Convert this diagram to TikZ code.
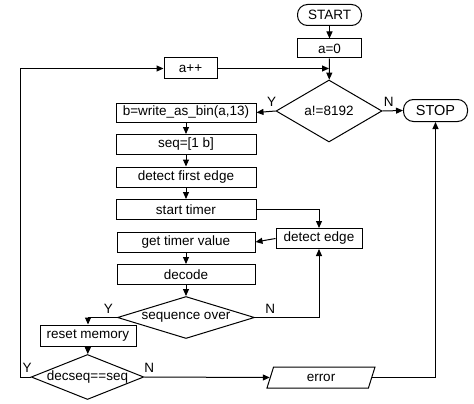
\documentclass[tikz,border=0pt]{standalone}
\usepackage{fontspec}
\setmainfont{Liberation Sans}
\usetikzlibrary{positioning, shapes.geometric, arrows.meta}

\tikzset{
  every node/.style={font=\fontsize{13.5}{15}\selectfont},
  flow/.style={line width=1pt, -{Triangle[length=7pt,width=6pt]}},
  box/.style={draw, line width=1pt, rectangle, minimum width=140pt, minimum height=20pt, inner sep=1pt},
  term/.style={draw, line width=1pt, rectangle, rounded corners=10pt, minimum width=64pt, minimum height=21pt, inner sep=1pt},
  decision/.style={draw, line width=1pt, diamond, inner sep=0pt},
  inout/.style={draw, line width=1pt, trapezium, trapezium left angle=55, trapezium right angle=125, trapezium stretches body, minimum width=108pt, minimum height=21pt, inner sep=1pt},
  yn/.style={inner sep=1pt, above=3pt}
}

\begin{document}
\begin{tikzpicture}[x=1pt, y=-1pt]
  \useasboundingbox (0,0) rectangle (474,404);

  % main loop over a
  \node[term] (start) at (329.5,15) {START};
  \node[box, minimum width=64pt, minimum height=19pt] (init) at (329.5,48.5) {a=0};
  \node[box, minimum width=53pt, minimum height=21pt] (inc) at (190.5,68.5) {a++};
  \node[decision, minimum width=106pt, minimum height=62pt, aspect=1.7] (test) at (329,111) {a!=8192};
  \node[term, minimum height=22pt, font=\fontsize{14.5}{16}\selectfont] (stop) at (435.5,110.5) {STOP};

  % left column
  \node[box, minimum height=19pt] (bin) at (186,112.5) {b=write\_as\_bin(a,13)};
  \node[box, below=11.5pt of bin] (seq) {seq=[1 b]};
  \node[box, below=11.5pt of seq] (first) {detect first edge};
  \node[box, below=11.5pt of first] (timer) {start timer};
  \node[box, minimum width=138pt, below=11.5pt of timer] (getval) {get timer value};
  \node[box, minimum width=138pt, below=11.5pt of getval] (decode) {decode};
  \node[box, minimum width=86pt] (edge) at (319,238.5) {detect edge};
  \node[decision, minimum width=137pt, minimum height=42pt, aspect=3.2, below=11pt of decode] (over) {sequence over};
  \node[box, minimum width=96pt, minimum height=21pt] (reset) at (88,335.5) {reset memory};
  \node[decision, minimum width=105pt, minimum height=42pt, aspect=2.5] (check) at (87.5,377) {decseq==seq};
  \node[inout] (err) at (321,377.5) {error};
  \coordinate (back) at (20,377);

  \draw[flow] (start) -- (init);
  \draw[flow] (init) -- (test);
  \draw[flow] (inc.east) -- (inc.east -| test.north);
  \draw[flow] (test.west) -- node[yn, pos=0.2] {Y} (bin.east);
  \draw[flow] (test.east) -- node[yn, pos=0.3] {N} (stop.west);
  \draw[flow] (bin) -- (seq);
  \draw[flow] (seq) -- (first);
  \draw[flow] (first) -- (timer);
  \draw[flow] (timer.east) -| (edge.north);
  \draw[flow] (edge.west) -- (getval.east);
  \draw[flow] (getval) -- (decode);
  \draw[flow] (decode) -- (over);
  \draw[flow] (over.east) -| node[yn, pos=0.12] {N} (edge.south);
  \draw[flow] (over.west) -| node[yn, pos=0.15] {Y} (reset.north);
  \draw[flow] (reset) -- (check);
  \draw[flow] (check.west) -- node[yn, pos=0.33] {Y} (back) |- (inc.west);
  \draw[flow] (check.east) -- node[yn, pos=0.04] {N} (err.west);
  \draw[flow] (err.east) -| (stop.south);
\end{tikzpicture}
\end{document}
